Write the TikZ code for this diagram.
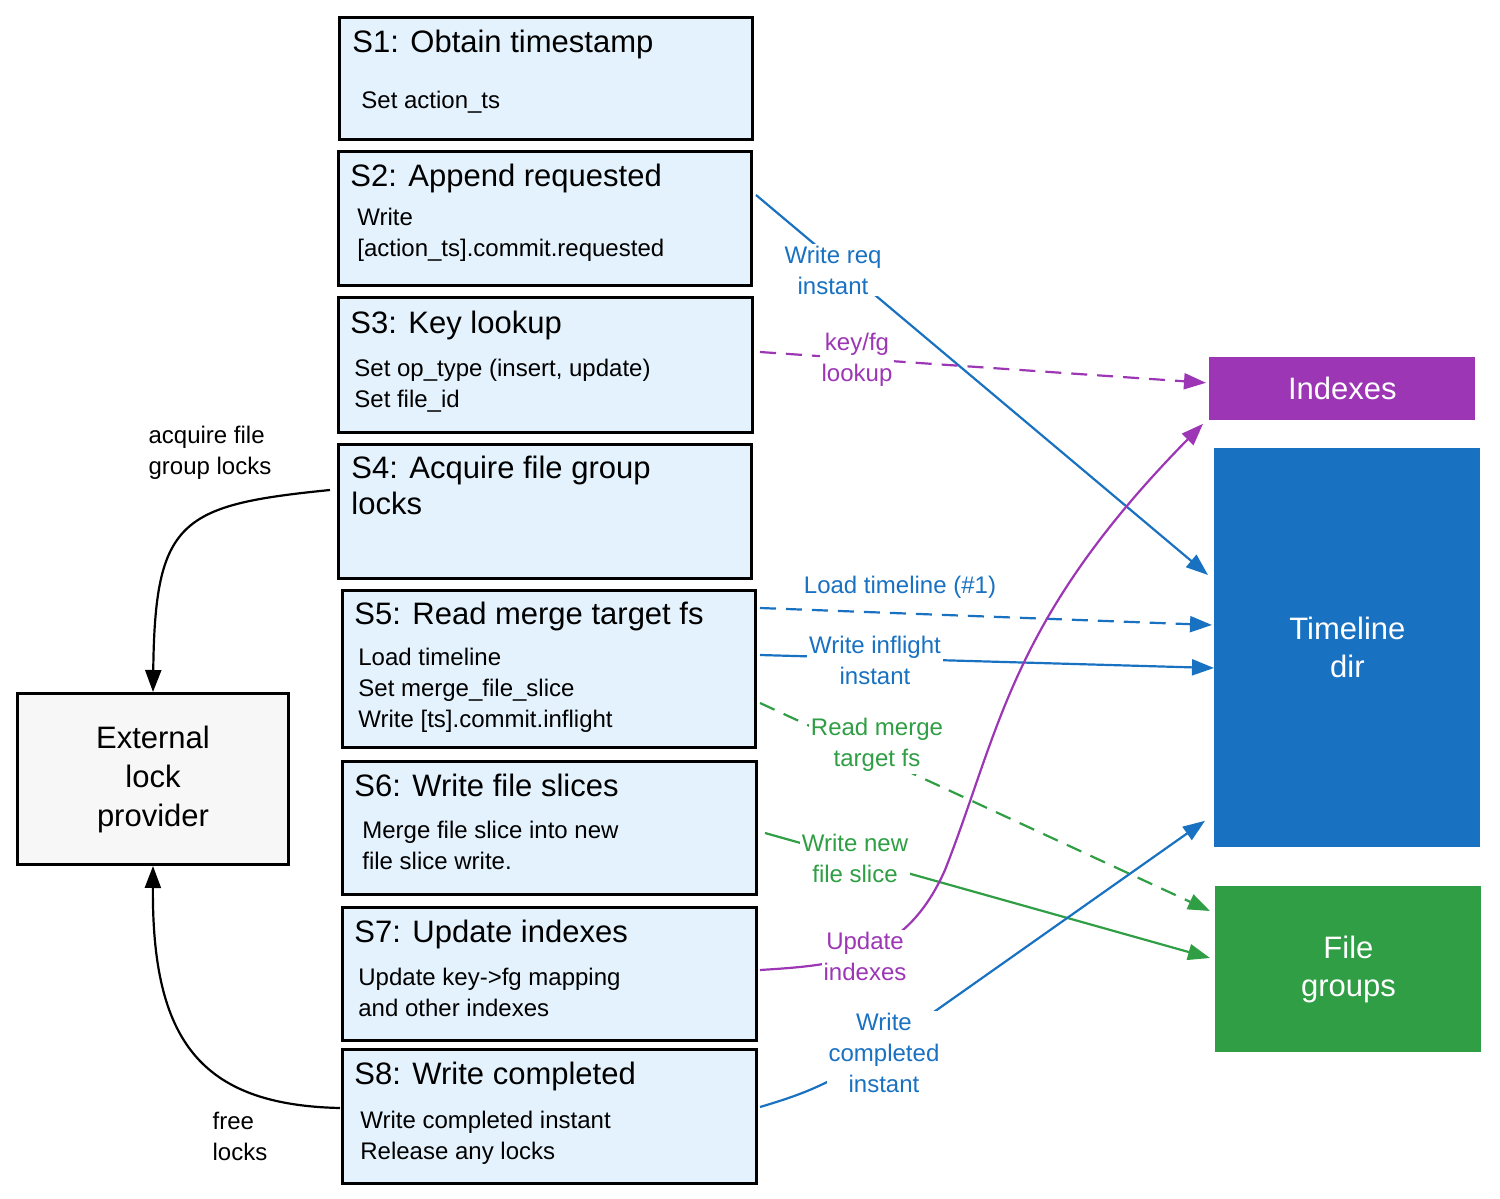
\documentclass[tikz,border=0pt]{standalone}
\usepackage{fontspec}
\setmainfont{Liberation Sans}
\usetikzlibrary{arrows.meta,calc}
\definecolor{bxf}{HTML}{E3F2FC}
\definecolor{pur}{HTML}{9C36B5}
\definecolor{blu}{HTML}{1971C2}
\definecolor{grn}{HTML}{2F9E44}
\begin{document}
\begin{tikzpicture}[x=0.5pt,y=-0.5pt,
  stp/.style={draw=black,line width=1.5pt,fill=bxf,anchor=north west,inner sep=0},
  ttl/.style={anchor=north west,font=\fontsize{15.5}{18}\selectfont,inner sep=0},
  bdy/.style={anchor=north west,font=\fontsize{12}{15.5}\selectfont,align=left,inner sep=0},
  lbl/.style={fill=white,align=center,font=\fontsize{12}{15.5}\selectfont,inner sep=1pt},
  tgt/.style={anchor=north west,inner sep=0,text=white,align=center,font=\fontsize{15.5}{19}\selectfont},
  arr/.style={line width=1.1pt,-{Triangle[length=11pt,width=8pt]}},
  dsh/.style={dash pattern=on 8pt off 5pt}]
\useasboundingbox (0,0) rectangle (1500,1199);
% step boxes
\node[stp,minimum width=206.5pt,minimum height=61pt] (s1) at (338,16) {};
\node[stp,minimum width=206.5pt,minimum height=67pt] (s2) at (337,150) {};
\node[stp,minimum width=207pt,minimum height=67.5pt] (s3) at (337,296) {};
\node[stp,minimum width=206.5pt,minimum height=67pt] (s4) at (337,443) {};
\node[stp,minimum width=206.5pt,minimum height=78.5pt] (s5) at (341,589) {};
\node[stp,minimum width=207pt,minimum height=66.5pt] (s6) at (341,760) {};
\node[stp,minimum width=207pt,minimum height=66.5pt] (s7) at (341,906) {};
\node[stp,minimum width=207pt,minimum height=67pt] (s8) at (341,1048) {};
\node[ttl] (t1) at (352,30) {S1: Obtain timestamp};
\node[bdy] (b1) at (361,91) {Set action\_ts};
\node[ttl] (t2) at (350,164) {S2: Append requested};
\node[bdy] (b2) at (357,208) {Write\\{}[action\_ts].commit.requested};
\node[ttl] (t3) at (350,311) {S3: Key lookup};
\node[bdy] (b3) at (354,359) {Set op\_type (insert, update)\\Set file\_id};
\node[ttl,align=left] (t4) at (351,456) {S4: Acquire file group\\locks};
\node[ttl] (t5) at (354,602) {S5: Read merge target fs};
\node[bdy] (b5) at (358,648) {Load timeline\\Set merge\_file\_slice\\Write [ts].commit.inflight};
\node[ttl] (t6) at (354,774) {S6: Write file slices};
\node[bdy] (b6) at (362,821) {Merge file slice into new\\file slice write.};
\node[ttl] (t7) at (354,920) {S7: Update indexes};
\node[bdy] (b7) at (358,968) {Update key->fg mapping\\and other indexes};
\node[ttl] (t8) at (354,1062) {S8: Write completed};
\node[bdy] (b8) at (360,1111) {Write completed instant\\Release any locks};
% external
\node[draw=black,line width=1.5pt,fill=black!3,anchor=north west,minimum width=135.5pt,minimum height=85.5pt,align=center,font=\fontsize{15.5}{19.5}\selectfont] (ext) at (16,692) {External\\lock\\provider};
% targets
\node[tgt,fill=pur,minimum width=133pt,minimum height=31.5pt] (idx) at (1209,357) {Indexes};
\node[tgt,fill=blu,minimum width=133pt,minimum height=199.5pt] (tl) at (1214,448) {Timeline\\dir};
\node[tgt,fill=grn,minimum width=133pt,minimum height=83pt] (fg) at (1215,886) {File\\groups};
% coordinates
\coordinate (tlA) at ($(tl.north west)+(-6,127)$);
\coordinate (tlB) at ($(tl.north west)+(-2,177)$);
\coordinate (tlC) at ($(tl.north west)+(0,220)$);
\coordinate (tlD) at ($(tl.south west)+(-9,-27)$);
\coordinate (idxA) at ($(idx.south west)+(-3,-38)$);
\coordinate (idxB) at ($(idx.south west)+(-6,3)$);
\coordinate (fgA) at ($(fg.north west)+(-5,25)$);
\coordinate (fgB) at ($(fg.north west)+(-5,72)$);
% connectors
\draw[arr,blu] ($(s2.north east)+(3,45)$) -- (tlA);
\node[lbl,text=blu] at (833,270) {Write req\\instant};
\draw[arr,pur,dsh] ($(s3.north east)+(6,56)$) -- (idxA);
\node[lbl,text=pur] at (857,360) {key/fg\\lookup};
\draw[arr,blu,dsh] ($(s5.north east)+(3,19)$) -- (tlB);
\node[lbl,text=blu] at (900,587) {Load timeline (\#1)};
\draw[arr,blu] ($(s5.north east)+(3,66)$) -- (tlC);
\node[lbl,text=blu] at (875,660) {Write inflight\\instant};
\draw[arr,grn,dsh] ($(s5.north east)+(3,114)$) -- (fgA);
\node[lbl,text=grn] at (877,745) {Read merge\\target fs};
\draw[arr,grn] ($(s6.north east)+(7,73)$) -- (fgB);
\node[lbl,text=grn] at (855,858) {Write new\\file slice};
\draw[arr,pur] ($(s7.north east)+(2,64)$) .. controls (840,965) and (905,960) .. (945,870) .. controls (1000,730) and (1010,620) .. (idxB);
\node[lbl,text=pur] at (865,956) {Update\\indexes};
\draw[arr,blu] ($(s8.north east)+(2,59)$) .. controls (800,1095) and (830,1085) .. (880,1050) -- (tlD);
\node[lbl,text=blu] at (884,1053) {Write\\completed\\instant};
\draw[arr,black] ($(s4.north west)+(-7,47)$) .. controls (180,505) and (155,520) .. (ext.north);
\node[align=left,font=\fontsize{12}{15.5}\selectfont,inner sep=0] (l4) at (210,453) {acquire file\\group locks};
\draw[arr,black] ($(s8.north west)+(-1,60)$) .. controls (200,1105) and (152,1040) .. (ext.south);
\node[align=left,font=\fontsize{12}{15.5}\selectfont,inner sep=0] (l8) at (240,1136) {free\\locks};
\end{tikzpicture}
\end{document}
